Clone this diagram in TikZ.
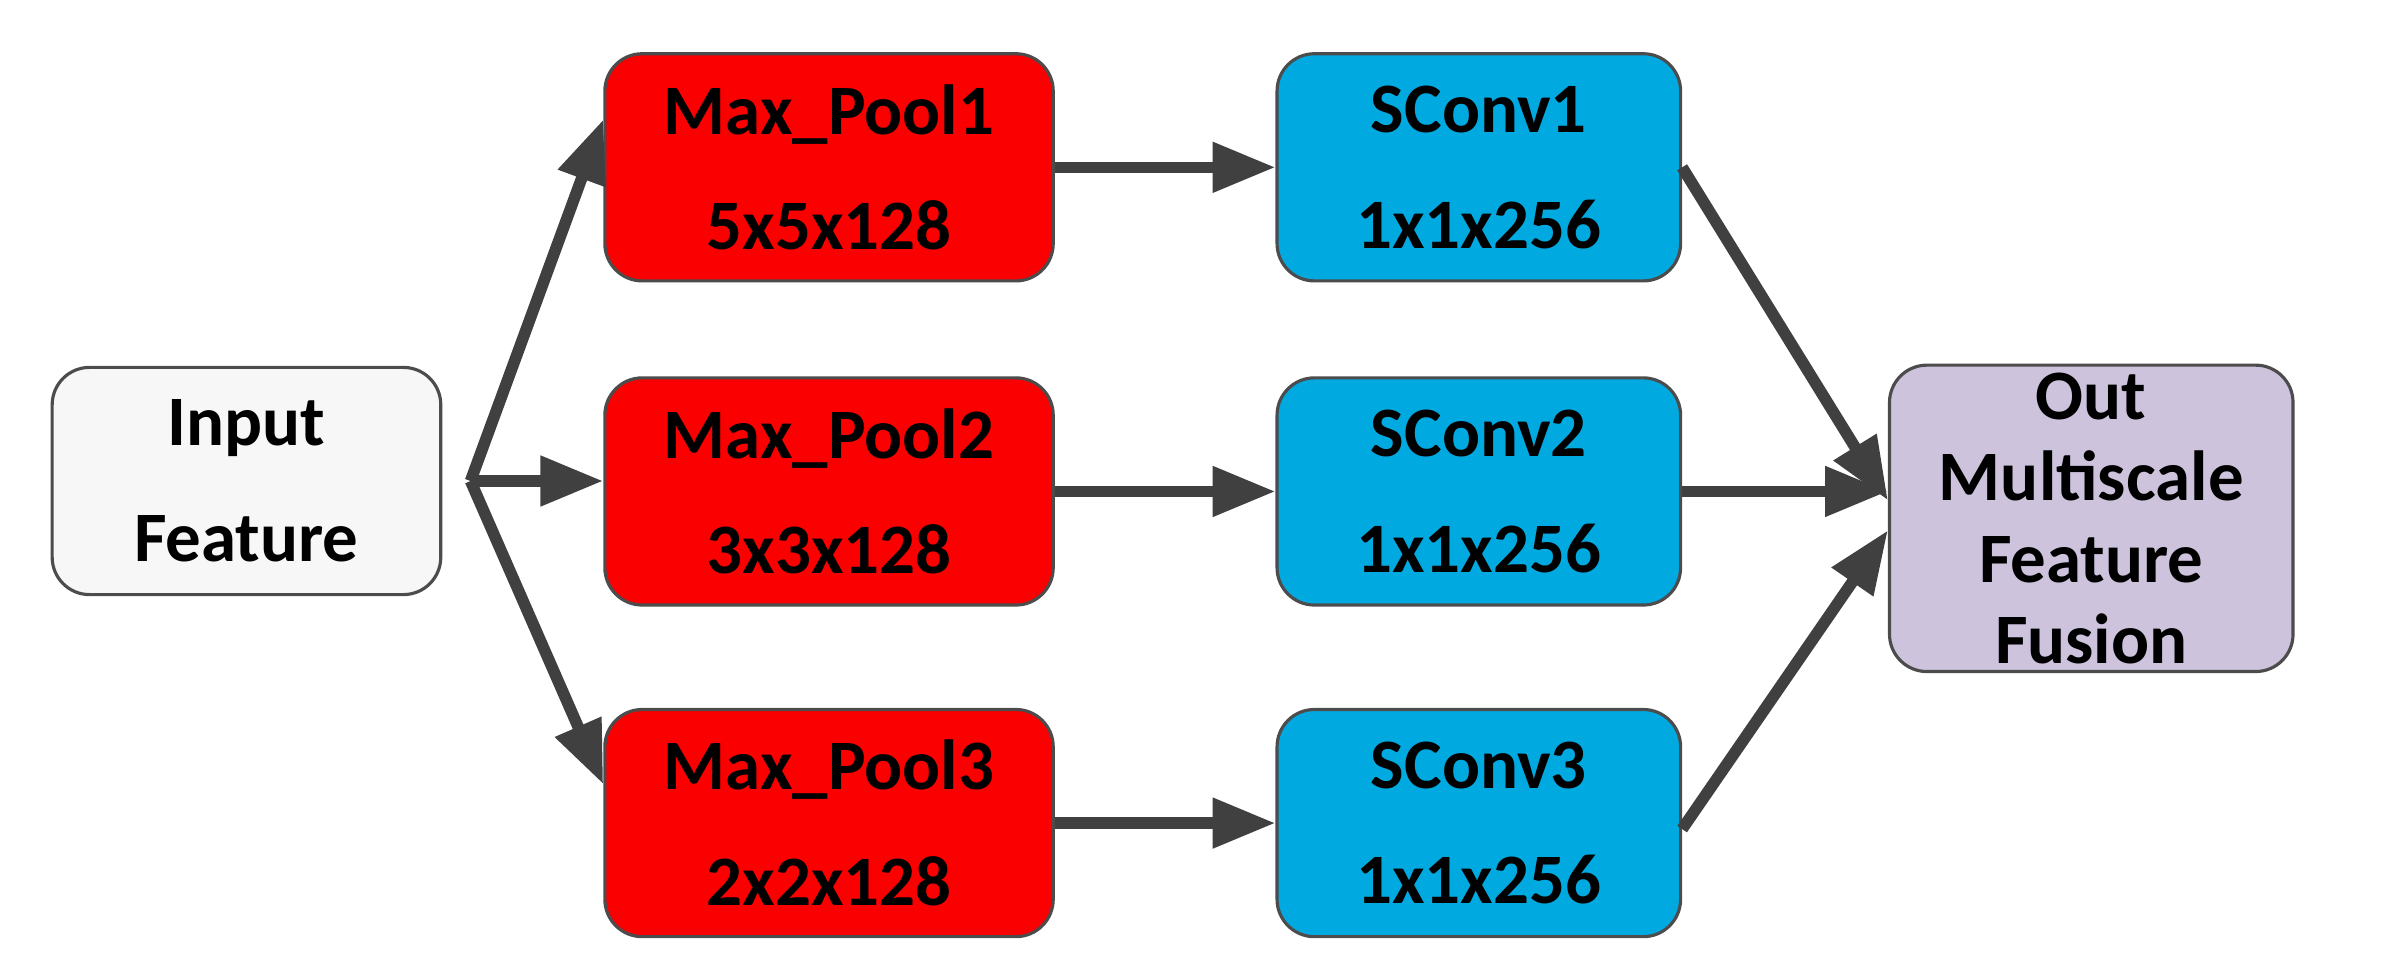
\documentclass[tikz,border=0pt]{standalone}
\usepackage{fontspec}
\setmainfont{Carlito}
\usetikzlibrary{arrows.meta}
\definecolor{poolred}{RGB}{250,0,0}
\definecolor{convblue}{RGB}{0,170,225}
\definecolor{outpurple}{RGB}{205,195,220}
\begin{document}
\begin{tikzpicture}[x=0.01cm,y=-0.01cm,
  box/.style={draw=black!70,rounded corners=0.25cm,minimum width=2.6cm,minimum height=1.52cm,align=center,font=\fontsize{13.5}{22}\selectfont\bfseries,line width=0.6pt},
  arr/.style={draw=black!75,line width=2.2pt,-{Triangle[length=0.42cm,width=0.32cm]}}]
\useasboundingbox (0,0) rectangle (1600,654);
\node[box,fill=black!3] (in) at (165,322) {Input\\Feature};
\node[box,fill=poolred,minimum width=3cm] (p1) at (555,112) {Max\_Pool1\\5x5x128};
\node[box,fill=poolred,minimum width=3cm] (p2) at (555,329) {Max\_Pool2\\3x3x128};
\node[box,fill=poolred,minimum width=3cm] (p3) at (555,551) {Max\_Pool3\\2x2x128};
\node[box,fill=convblue,minimum width=2.7cm] (c1) at (990,112) {SConv1\\1x1x256};
\node[box,fill=convblue,minimum width=2.7cm] (c2) at (990,329) {SConv2\\1x1x256};
\node[box,fill=convblue,minimum width=2.7cm] (c3) at (990,551) {SConv3\\1x1x256};
\node[box,fill=outpurple,minimum width=2.7cm,minimum height=2.05cm,inner sep=1pt,font=\fontsize{13.5}{15.5}\selectfont\bfseries] (out) at (1400,347) {Out\\Multiscale\\Feature\\Fusion};
\coordinate (s) at (315,322);
\draw[draw=black!75,line width=2.2pt] (in.east) ++(20,0) -- (s);
\draw[arr] (s) -- (p1.west|-0,80);
\draw[arr] (s) -- (p2.west|-s);
\draw[arr] (s) -- (p3.west|-0,525);
\draw[arr] (p1.east) -- (c1.west);
\draw[arr] (p2.east) -- (c2.west);
\draw[arr] (p3.east) -- (c3.west);
\draw[arr] (c1.east|-0,112) -- (out.west|-0,335);
\draw[arr] (c2.east) -- (out.west|-c2);
\draw[arr] (c3.east|-0,555) -- (out.west|-0,355);
\end{tikzpicture}
\end{document}
